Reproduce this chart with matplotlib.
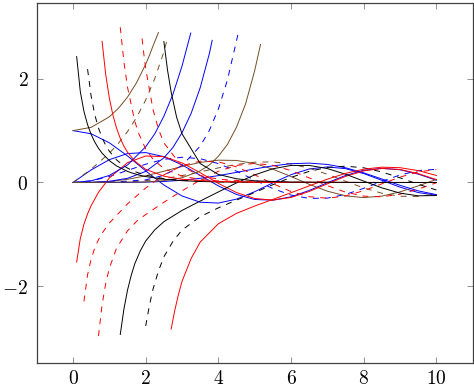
import matplotlib
matplotlib.use("Agg")
import matplotlib.pyplot as plt

plt.rcParams['mathtext.fontset'] = 'cm'
plt.rcParams['lines.scale_dashes'] = False

RED = '#ff0000'
BLUE = '#0000ff'
BLACK = '#000000'
BROWN = '#734d26'

# ---- data ----
# oscillating family (starts at x = 0)
osc_x = [0, 0.5, 1, 1.5, 2, 2.5, 3, 3.5, 4, 4.5, 5, 5.5, 6, 6.5, 7, 7.5, 8, 8.5, 9, 9.5, 10]
osc0 = [1, 0.9385, 0.7652, 0.5118, 0.2239, -0.0484, -0.2601, -0.3801, -0.3971, -0.3205, -0.1776,
        -0.0068, 0.1506, 0.2601, 0.3001, 0.2663, 0.1717, 0.0419, -0.0903, -0.1939, -0.2459]
osc1 = [0, 0.2423, 0.4401, 0.5579, 0.5767, 0.4971, 0.3391, 0.1374, -0.0660, -0.2311, -0.3276,
        -0.3414, -0.2767, -0.1538, -0.0047, 0.1352, 0.2346, 0.2731, 0.2453, 0.1613, 0.0435]
osc2 = [0, 0.0306, 0.1149, 0.2321, 0.3528, 0.4461, 0.4861, 0.4586, 0.3641, 0.2178, 0.0466,
        -0.1173, -0.2429, -0.3074, -0.3014, -0.2302, -0.1130, 0.0224, 0.1448, 0.2279, 0.2546]
osc3 = [0, 0.0026, 0.0196, 0.0610, 0.1289, 0.2167, 0.3091, 0.3868, 0.4301, 0.4247, 0.3649,
        0.2561, 0.1148, -0.0354, -0.1675, -0.2580, -0.2911, -0.2626, -0.1809, -0.0653, 0.0584]
osc4 = [0, 0.0002, 0.0025, 0.0118, 0.0340, 0.0740, 0.1321, 0.2045, 0.2811, 0.3485, 0.3913,
        0.3967, 0.3577, 0.2747, 0.1578, 0.0238, -0.1053, -0.2078, -0.2654, -0.2691, -0.2196]
osc5 = [0, 0.0000, 0.0002, 0.0018, 0.0070, 0.0195, 0.0430, 0.0806, 0.1321, 0.1949, 0.2611,
        0.3209, 0.3621, 0.3735, 0.3478, 0.2834, 0.1858, 0.0670, -0.0550, -0.1613, -0.2341]

# family falling to -inf near the left
neg0_x = [0.1, 0.2, 0.3, 0.4, 0.5, 0.7, 1, 1.5, 2, 2.5, 3, 3.5, 4, 4.5, 5, 5.5, 6, 6.5, 7, 7.5, 8, 8.5, 9, 9.5, 10]
neg0 = [-1.5342, -1.0811, -0.8073, -0.6060, -0.4445, -0.1907, 0.0883, 0.3824, 0.5104, 0.4981, 0.3769,
        0.1890, -0.0169, -0.1947, -0.3085, -0.3395, -0.2882, -0.1732, -0.0259, 0.1173, 0.2235, 0.2702,
        0.2499, 0.1712, 0.0557]
neg1_x = [0.3, 0.4, 0.5, 0.6, 0.7, 0.8, 1, 1.5, 2, 2.5, 3, 3.5, 4, 4.5, 5, 5.5, 6, 6.5, 7, 7.5, 8, 8.5, 9, 9.5, 10]
neg1 = [-2.2931, -1.7809, -1.4715, -1.2604, -1.1032, -0.9781, -0.7812, -0.4123, -0.1070, 0.1459, 0.3247,
        0.4102, 0.3979, 0.3001, 0.1479, -0.0238, -0.1750, -0.2741, -0.3027, -0.2591, -0.1581, -0.0262,
        0.1043, 0.2032, 0.2490]
neg2_x = [0.7, 0.8, 0.9, 1, 1.2, 1.5, 1.75, 2, 2.5, 3, 3.5, 4, 4.5, 5, 5.5, 6, 6.5, 7, 7.5, 8, 8.5, 9, 9.5, 10]
neg2 = [-2.961, -2.358, -1.946, -1.6507, -1.2633, -0.9322, -0.748, -0.6174, -0.3814, -0.1604, 0.0454, 0.2159,
        0.3281, 0.3677, 0.3308, 0.2299, 0.0889, -0.0606, -0.1864, -0.2630, -0.2764, -0.2267, -0.1284, -0.0059]
neg3_x = [1.3, 1.4, 1.5, 1.6, 1.7, 1.85, 2, 2.25, 2.5, 3, 3.5, 4, 4.5, 5, 5.5, 6, 6.5, 7, 7.5, 8, 8.5, 9, 9.5, 10]
neg3 = [-2.930, -2.442, -2.0736, -1.794, -1.5658, -1.320, -1.1278, -0.913, -0.7561, -0.5386, -0.3583, -0.1820,
        -0.0085, 0.1463, 0.2644, 0.3283, 0.3288, 0.2681, 0.1597, 0.0266, -0.1039, -0.2051, -0.2573, -0.2514]
neg4_x = [2, 2.1, 2.2, 2.35, 2.5, 2.75, 3, 3.5, 4, 4.5, 5, 5.5, 6, 6.5, 7, 7.5, 8, 8.5, 9, 9.5, 10]
neg4 = [-2.766, -2.379, -2.0603, -1.708, -1.4332, -1.135, -0.9168, -0.6596, -0.4889, -0.3394, -0.1921, -0.0424,
        0.0984, 0.2146, 0.2904, 0.3142, 0.2830, 0.2031, 0.0900, -0.0341, -0.1449]
neg5_x = [2.7, 2.8, 2.9, 3, 3.25, 3.5, 4, 4.5, 5, 5.5, 6, 6.5, 7, 7.5, 8, 8.5, 9, 9.5, 10]
neg5 = [-2.826, -2.467, -2.163, -1.906, -1.466, -1.1494, -0.7958, -0.5949, -0.4537, -0.3261, -0.1971, -0.0647,
        0.0638, 0.1755, 0.2564, 0.2951, 0.2851, 0.2286, 0.1355]

# growing family (cut off near the top)
up0_x = [0, 0.5, 1, 1.25, 1.5, 1.75, 2, 2.1, 2.2, 2.35]
up0 = [1, 1.0635, 1.2661, 1.4304, 1.6467, 1.9252, 2.2796, 2.4463, 2.6291, 2.89]
up1_x = [0, 0.5, 1, 1.25, 1.5, 1.75, 2, 2.25, 2.5, 2.61]
up1 = [0, 0.2579, 0.5652, 0.7553, 0.9817, 1.2555, 1.5906, 2.0041, 2.5167, 2.81]
up2_x = [0, 0.5, 1, 1.5, 2, 2.25, 2.5, 2.75, 3, 3.24]
up2 = [0, 0.0319, 0.1357, 0.3378, 0.6889, 0.9377, 1.2764, 1.7012, 2.2452, 2.88]
up3_x = [0, 0.5, 1, 1.5, 2, 2.5, 2.75, 3, 3.25, 3.5, 3.75, 3.83]
up3 = [0, 0.0027, 0.0222, 0.0809, 0.2127, 0.4745, 0.6749, 0.9598, 1.3317, 1.8264, 2.4792, 2.74]
up4_x = [0, 1, 2, 2.5, 3, 3.5, 3.75, 4, 4.25, 4.5, 4.56]
up4 = [0, 0.0027, 0.0507, 0.1376, 0.3257, 0.7010, 1.00, 1.4162, 1.9776, 2.7349, 2.92]
up5_x = [0, 2, 2.5, 3, 3.5, 3.75, 4, 4.25, 4.5, 4.75, 5, 5.16]
up5 = [0, 0.0098, 0.0342, 0.0912, 0.2241, 0.336, 0.5049, 0.734, 1.068, 1.518, 2.1574, 2.66]

# decaying family (from +inf near the left to 0)
dec0_x = [0.1, 0.2, 0.3, 0.4, 0.5, 0.6, 0.7, 0.8, 1, 1.2, 1.5, 1.6, 1.8, 2, 2.5, 3, 3.5, 4, 5, 6, 8, 10]
dec0 = [2.4271, 1.7527, 1.3725, 1.1145, 0.9244, 0.7775, 0.6605, 0.5653, 0.4210, 0.3185, 0.2138, 0.1880,
        0.1459, 0.1139, 0.0623, 0.0347, 0.0196, 0.0112, 0.0037, 0.0012, 0.0001, 0]
dec1_x = [0.4, 0.5, 0.6, 0.7, 0.8, 0.9, 1, 1.2, 1.4, 1.5, 1.7, 2, 2.5, 3, 4, 5, 6, 8, 10]
dec1 = [2.1844, 1.6564, 1.3028, 1.0503, 0.8618, 0.7165, 0.6019, 0.4346, 0.3208, 0.2774, 0.2094, 0.1399,
        0.0739, 0.0402, 0.0125, 0.0040, 0.0013, 0.0002, 0]
dec2_x = [0.8, 0.9, 1, 1.1, 1.2, 1.3, 1.4, 1.5, 1.7, 2, 2.5, 3, 4, 5, 6, 8, 10]
dec2 = [2.7198, 2.079, 1.6248, 1.2925, 1.0428, 0.8513, 0.7020, 0.5837, 0.4119, 0.2538, 0.1214, 0.0615,
        0.0175, 0.0053, 0.0017, 0.0002, 0]
dec3_x = [1.3, 1.4, 1.5, 1.7, 1.8, 2, 2.2, 2.5, 3, 3.5, 4, 5, 6, 8, 10]
dec3 = [2.992, 2.3265, 1.8339, 1.1786, 0.9577, 0.6475, 0.4486, 0.2681, 0.1222, 0.0592, 0.0300, 0.0083,
        0.0025, 0.0003, 0]
dec4_x = [1.9, 1.95, 2, 2.2, 2.35, 2.5, 3, 3.5, 4, 5, 6, 8, 10]
dec4 = [2.775, 2.47, 2.1963, 1.4108, 1.03, 0.7648, 0.3059, 0.1337, 0.0625, 0.0153, 0.0043, 0.0004, 0]
dec5_x = [2.5, 2.6, 2.7, 2.85, 3, 3.5, 4, 4.5, 5, 6, 8, 10]
dec5 = [2.7154, 2.170, 1.744, 1.26, 0.9379, 0.3648, 0.155, 0.0712, 0.0328, 0.0077, 0.0006, 0]

S, D = '-', (0, (4.3, 4.3))

curves = [
    (osc_x, osc0, BLUE, S), (osc_x, osc1, BLUE, S), (osc_x, osc2, BLUE, D),
    (osc_x, osc3, BROWN, S), (osc_x, osc4, BROWN, D), (osc_x, osc5, BLUE, S),
    (neg0_x, neg0, RED, S), (neg1_x, neg1, RED, D), (neg2_x, neg2, RED, D),
    (neg3_x, neg3, BLACK, S), (neg4_x, neg4, BLACK, D), (neg5_x, neg5, RED, S),
    (up0_x, up0, BROWN, S), (up1_x, up1, BROWN, D), (up2_x, up2, BLUE, S),
    (up3_x, up3, BLUE, S), (up4_x, up4, BLUE, D), (up5_x, up5, BROWN, S),
    (dec0_x, dec0, BLACK, S), (dec1_x, dec1, BLACK, D), (dec2_x, dec2, RED, S),
    (dec3_x, dec3, RED, D), (dec4_x, dec4, RED, D), (dec5_x, dec5, BLACK, S),
]

fig = plt.figure(figsize=(4.74, 3.88), dpi=100)
ax = fig.add_axes([0.0774, 0.0644, 0.9199, 0.9279])

for xs, ys, c, ls in curves:
    ax.plot(xs, ys, color=c, linestyle=ls, linewidth=0.7)

ax.set_xlim(-1, 11)
ax.set_ylim(-3.48, 3.46)
ax.set_xticks([0, 2, 4, 6, 8, 10])
ax.set_xticklabels([r'$%d$' % v for v in [0, 2, 4, 6, 8, 10]])
ax.set_yticks([-2, 0, 2])
ax.set_yticklabels([r'$-2$', r'$0$', r'$2$'])
ax.tick_params(direction='in', length=4, width=0.6, color='#808080',
               top=True, right=True, labelsize=14)
ax.tick_params(axis='x', pad=4)
ax.tick_params(axis='y', pad=6)
for sp in ax.spines.values():
    sp.set_linewidth(0.9)
    sp.set_color('#404040')

fig.savefig('out.png', dpi=100)
